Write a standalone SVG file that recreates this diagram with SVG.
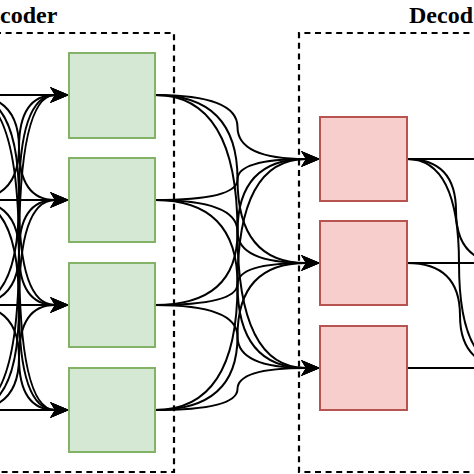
<svg xmlns="http://www.w3.org/2000/svg" width="474" height="474" viewBox="0 0 474 474">
<defs>
<style>
.title{font-family:"Liberation Serif","Times New Roman",serif;font-weight:bold;font-size:24px;fill:#000}
.group{fill:none;stroke:#000;stroke-width:2.2;stroke-dasharray:6 4.6}
.enc{fill:#d5e8d4;stroke:#82b366;stroke-width:2}
.dec{fill:#f8cecc;stroke:#b85450;stroke-width:2}
.edge{fill:none;stroke:#000;stroke-width:2}
.arr{marker-end:url(#ah)}
</style>
<marker id="ah" markerUnits="userSpaceOnUse" markerWidth="20" markerHeight="18" viewBox="0 -9 20 18" refX="5" refY="0" orient="auto">
<path d="M19,0 L0,-8 L5,0 L0,8 Z" fill="#000"/>
</marker>
</defs>
<rect width="474" height="474" fill="#fff"/>
<text class="title" x="0" y="23">coder</text>
<text class="title" x="409" y="23">Decod</text>
<g id="encoder-group"><path class="group" d="M-5,33 H174 V472 H-5"/></g>
<g id="decoder-group"><path class="group" d="M480,33 H299 V472 H480"/></g>
<g id="connectors">
<!-- inputs to encoder -->
<path class="edge arr" d="M-31,95 H55"/>
<path class="edge arr" d="M-31,200 H55"/>
<path class="edge arr" d="M-31,305 H55"/>
<path class="edge arr" d="M-31,410 H55"/>
<path class="edge arr" d="M-31,95 Q19,95 19,147.5 Q19,200 55,200"/>
<path class="edge arr" d="M-31,95 Q19,95 19,200 Q19,305 55,305"/>
<path class="edge arr" d="M-31,95 Q19,95 19,252.5 Q19,410 55,410"/>
<path class="edge arr" d="M-31,200 Q19,200 19,147.5 Q19,95 55,95"/>
<path class="edge arr" d="M-31,200 Q19,200 19,252.5 Q19,305 55,305"/>
<path class="edge arr" d="M-31,200 Q19,200 19,305 Q19,410 55,410"/>
<path class="edge arr" d="M-31,305 Q19,305 19,200 Q19,95 55,95"/>
<path class="edge arr" d="M-31,305 Q19,305 19,252.5 Q19,200 55,200"/>
<path class="edge arr" d="M-31,305 Q19,305 19,357.5 Q19,410 55,410"/>
<path class="edge arr" d="M-31,410 Q19,410 19,252.5 Q19,95 55,95"/>
<path class="edge arr" d="M-31,410 Q19,410 19,305 Q19,200 55,200"/>
<path class="edge arr" d="M-31,410 Q19,410 19,357.5 Q19,305 55,305"/>
<!-- encoder to decoder -->
<path class="edge arr" d="M155,95 Q237.5,95 237.5,127 Q237.5,159 306,159"/>
<path class="edge arr" d="M155,95 Q237.5,95 237.5,179 Q237.5,263 306,263"/>
<path class="edge arr" d="M155,95 Q237.5,95 237.5,231.5 Q237.5,368 306,368"/>
<path class="edge arr" d="M155,200 Q237.5,200 237.5,179.5 Q237.5,159 306,159"/>
<path class="edge arr" d="M155,200 Q237.5,200 237.5,231.5 Q237.5,263 306,263"/>
<path class="edge arr" d="M155,200 Q237.5,200 237.5,284 Q237.5,368 306,368"/>
<path class="edge arr" d="M155,305 Q237.5,305 237.5,232 Q237.5,159 306,159"/>
<path class="edge arr" d="M155,305 Q237.5,305 237.5,284 Q237.5,263 306,263"/>
<path class="edge arr" d="M155,305 Q237.5,305 237.5,336.5 Q237.5,368 306,368"/>
<path class="edge arr" d="M155,410 Q237.5,410 237.5,284.5 Q237.5,159 306,159"/>
<path class="edge arr" d="M155,410 Q237.5,410 237.5,336.5 Q237.5,263 306,263"/>
<path class="edge arr" d="M155,410 Q237.5,410 237.5,389 Q237.5,368 306,368"/>
<!-- decoder outputs -->
<path class="edge" d="M407,159 H480"/>
<path class="edge" d="M407,263 H480"/>
<path class="edge" d="M407,368 H480"/>
<path class="edge" d="M407,159 Q456,159 456,211 Q456,263 505,263"/>
<path class="edge" d="M407,159 Q459,159 459,263.5 Q459,368 511,368"/>
<path class="edge" d="M407,263 Q460,263 460,315.5 Q460,368 513,368"/>
</g>
<g id="enc1"><rect class="enc" x="69" y="53" width="86" height="85"/></g>
<g id="enc2"><rect class="enc" x="69" y="158" width="86" height="84"/></g>
<g id="enc3"><rect class="enc" x="69" y="263" width="86" height="84"/></g>
<g id="enc4"><rect class="enc" x="69" y="368" width="86" height="84"/></g>
<g id="dec1"><rect class="dec" x="320" y="117" width="87" height="84"/></g>
<g id="dec2"><rect class="dec" x="320" y="221" width="87" height="84"/></g>
<g id="dec3"><rect class="dec" x="320" y="326" width="87" height="84"/></g>
</svg>
